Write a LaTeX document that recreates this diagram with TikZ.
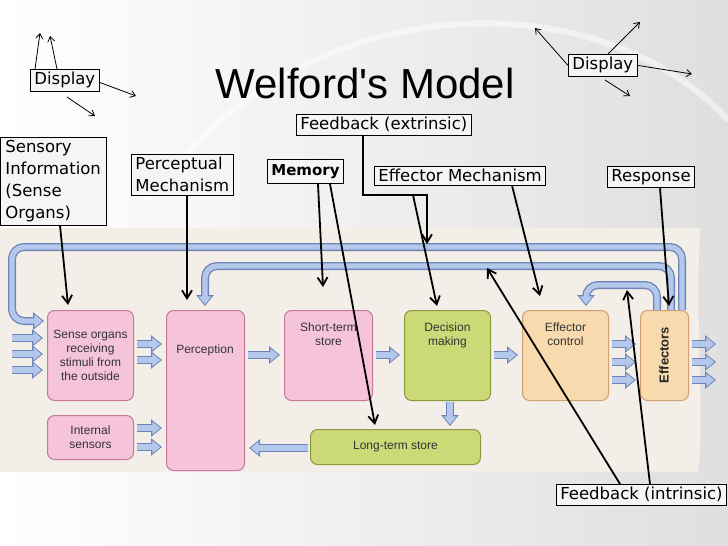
\documentclass[tikz,border=0pt]{standalone}
\usepackage{fontspec}
\setmainfont{Liberation Sans}
\newfontfamily\callfont{DejaVu Sans}
\usetikzlibrary{arrows.meta}
\definecolor{pinkf}{HTML}{F5C4DA}
\definecolor{pinkd}{HTML}{C87898}
\definecolor{greenf}{HTML}{CBD977}
\definecolor{greend}{HTML}{8A9A40}
\definecolor{peachf}{HTML}{F9D9AE}
\definecolor{peachd}{HTML}{D0A070}
\definecolor{bdark}{HTML}{6C84B8}
\definecolor{blight}{HTML}{B4C8EC}
\definecolor{panel}{HTML}{F3EFE8}
\tikzset{
  box/.style={draw=#1d,fill=#1f,rounded corners=7pt,line width=1pt,anchor=north west,align=center,font=\fontsize{12}{14}\selectfont,text=black!80},
  call/.style={draw=black,fill=white!92!gray,line width=0.8pt,anchor=north west,align=left,font=\callfont\fontsize{16.5}{22}\selectfont,inner xsep=4pt,inner ysep=3pt},
  pt/.style={draw=black,line width=1.8pt,-{Straight Barb[length=8pt,width=10pt]}},
  thin/.style={draw=black,line width=0.8pt,-{Straight Barb[length=5pt,width=7pt]}},
  bo/.style={draw=bdark,line width=8pt,-{Triangle[length=11pt,width=17pt]}},
  bi/.style={draw=blight,line width=5.4pt,shorten >=1.6pt,-{Triangle[length=8pt,width=12.5pt]}}
}
\newcommand\barr[1]{\draw[bo] #1; \draw[bi] #1;}
\begin{document}
\begin{tikzpicture}[x=1pt,y=-1pt]
\useasboundingbox (0,0) rectangle (728,546);
\shade[left color=white,right color=gray!25] (0,0) rectangle (728,546);
\draw[white,line width=6pt,opacity=.5] (150,200) .. controls (300,-20) and (600,-20) .. (728,120);
\fill[panel] (0,228) -- (700,228) .. controls (695,330) and (705,420) .. (698,472) -- (0,472) -- cycle;
% title
\node[font=\fontsize{42}{44}\selectfont] (title) at (365,83) {Welford\textquotesingle s Model};
% diagram boxes
\node[box=pink,minimum width=86pt,minimum height=90pt] (so) at (47,310) {Sense organs\\receiving\\stimuli from\\the outside};
\node[box=pink,minimum width=86pt,minimum height=44pt] (is) at (47,415) {Internal\\sensors};
\node[box=pink,minimum width=78pt,minimum height=160pt] (pe) at (166,310) {};
\node[font=\fontsize{12}{14}\selectfont,text=black!80] at (205,350) {Perception};
\node[box=pink,minimum width=88pt,minimum height=90pt] (st) at (284,310) {Short-term\\store\\[28pt]};
\node[box=green,minimum width=86pt,minimum height=90pt] (dm) at (404,310) {Decision\\making\\[28pt]};
\node[box=green,minimum width=170pt,minimum height=35pt] (lt) at (310,429) {Long-term store};
\node[box=peach,minimum width=86pt,minimum height=90pt] (ec) at (522,310) {Effector\\control\\[28pt]};
\node[box=peach,minimum width=48pt,minimum height=90pt] (ef) at (640,310) {};
\node[rotate=90,font=\bfseries\fontsize{13}{14}\selectfont,text=black!85] at (664,355) {Effectors};
% block arrows
\foreach \y in {338,354,370} {\barr{(12,\y) -- (43,\y)}}
\foreach \y in {344,360} {\barr{(137,\y) -- (162,\y)}}
\foreach \y in {428,447} {\barr{(137,\y) -- (162,\y)}}
\barr{(248,355) -- (280,355)}
\barr{(376,355) -- (400,355)}
\barr{(494,355) -- (518,355)}
\foreach \y in {344,362,380} {\barr{(612,\y) -- (636,\y)}}
\foreach \y in {344,362,380} {\barr{(692,\y) -- (716,\y)}}
\barr{(450,402) -- (450,426)}
\barr{(308,448) -- (249,448)}
\barr{[rounded corners=12pt] (682,310) -- (682,247) -- (12,247) -- (12,321) -- (44,321)}
\barr{[rounded corners=12pt] (671,310) -- (671,266) -- (205,266) -- (205,306)}
\barr{[rounded corners=12pt] (657,310) -- (657,285) -- (586,285) -- (586,306)}
% callouts
\node[call] (d1) at (30,69) {Display};
\node[call] (d2) at (568,54) {Display};
\node[call] (fe) at (296,114) {Feedback (extrinsic)};
\node[call,inner xsep=5pt] (si) at (0,137) {Sensory\\Information\\(Sense\\Organs)};
\node[call] (pm) at (131,154) {Perceptual\\Mechanism};
\node[call,font=\callfont\bfseries\fontsize{15}{20}\selectfont,inner ysep=5pt] (me) at (267,159) {Memory};
\node[call] (em) at (374,166) {Effector Mechanism};
\node[call] (re) at (607,166) {Response};
\node[call,anchor=north east] (fi) at (727,484) {Feedback (intrinsic)};
% display arrows
\draw[thin] (35,69) -- (40,33);
\draw[thin] (57,69) -- (50,36);
\draw[thin] (d1.east) ++(0,2) -- (136,96);
\draw[thin] (67,97) -- (95,116);
\draw[thin] (d2.west) -- (535,28);
\draw[thin] (608,54) -- (640,22);
\draw[thin] (d2.east) -- (692,74);
\draw[thin] (605,80) -- (630,96);
% pointer arrows
\draw[pt] (si.south -| 60,0) -- (68,305);
\draw[pt] (pm.south -| 187,0) -- (187,300);
\draw[pt] (me.south -| 318,0) -- (323,287);
\draw[pt] (me.south -| 330,0) -- (375,425);
\draw[pt] (fe.south -| 363,0) -- (363,195) -- (427,195) -- (427,244);
\draw[pt] (413,195) -- (437,306);
\draw[pt] (em.south -| 512,0) -- (540,296);
\draw[pt] (re.south -| 660,0) -- (669,306);
\draw[pt] (fi.north -| 620,0) -- (487,268);
\draw[pt] (fi.north -| 650,0) -- (627,290);
\end{tikzpicture}
\end{document}
